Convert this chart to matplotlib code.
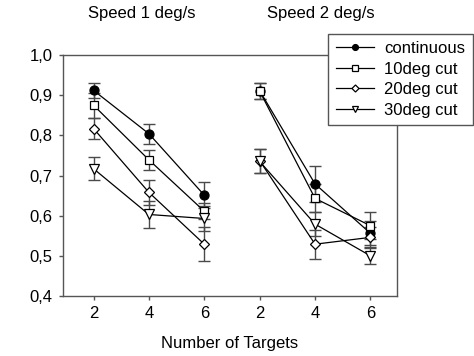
import matplotlib
matplotlib.use("Agg")
import matplotlib.pyplot as plt

plt.rcParams['font.family'] = ['Liberation Sans', 'DejaVu Sans']

# number of targets per speed block
targets = ["2", "4", "6"]
speeds = ["Speed 1 deg/s", "Speed 2 deg/s"]

# means [speed1 (2,4,6), speed2 (2,4,6)]
continuous = [[0.912, 0.804, 0.651], [0.911, 0.679, 0.556]]
cut10 = [[0.875, 0.739, 0.611], [0.910, 0.643, 0.575]]
cut20 = [[0.817, 0.658, 0.529], [0.737, 0.529, 0.546]]
cut30 = [[0.717, 0.603, 0.593], [0.735, 0.579, 0.500]]

# standard errors
continuous_err = [[0.018, 0.025, 0.032], [0.020, 0.044, 0.030]]
cut10_err = [[0.031, 0.025, 0.020], [0.020, 0.035, 0.034]]
cut20_err = [[0.027, 0.032, 0.042], [0.030, 0.036, 0.025]]
cut30_err = [[0.029, 0.034, 0.030], [0.030, 0.030, 0.020]]

series = [
    ("continuous", continuous, continuous_err, "o", "black"),
    ("10deg cut", cut10, cut10_err, "s", "white"),
    ("20deg cut", cut20, cut20_err, "D", "white"),
    ("30deg cut", cut30, cut30_err, "v", "white"),
]

fig = plt.figure(figsize=(4.74, 3.56), dpi=100)
ax = fig.add_axes([0.133, 0.1685, 0.7046, 0.677])

sizes = {"o": 6.5, "s": 6, "D": 5.5, "v": 7}
handles = []
for label, vals, errs, mk, fc in series:
    for g in range(len(speeds)):
        xs = [g * 3 + i for i in range(len(targets))]
        ax.errorbar(xs, vals[g], yerr=errs[g], fmt="none", ecolor="#4a4a4a",
                    elinewidth=1, capsize=4, capthick=1, zorder=2)
        line, = ax.plot(xs, vals[g], color="black", lw=0.9, marker=mk,
                        markersize=sizes[mk], markerfacecolor=fc,
                        markeredgecolor="black", markeredgewidth=0.9, zorder=3)
    handles.append((line, label))

ax.set_xlim(-0.55, 5.48)
ax.set_ylim(0.4, 1.0)
ax.set_xticks(range(6))
ax.set_xticklabels(targets * 2, fontsize=12)
yt = [0.4, 0.5, 0.6, 0.7, 0.8, 0.9, 1.0]
ax.set_yticks(yt)
ax.set_yticklabels([f"{v:.1f}".replace(".", ",") for v in yt], fontsize=12)
ax.tick_params(direction="out", length=3, width=1, color="#555555", pad=4.5)
for s in ax.spines.values():
    s.set_color("#555555")
    s.set_linewidth(1)

fig.text(0.485, 0.036, "Number of Targets", ha="center", va="center", fontsize=12)
fig.text(0.30, 0.962, speeds[0], ha="center", va="center", fontsize=12)
fig.text(0.677, 0.962, speeds[1], ha="center", va="center", fontsize=12)

leg = fig.legend([h for h, _ in handles], [l for _, l in handles],
                 loc="upper right", bbox_to_anchor=(0.997, 0.905),
                 borderaxespad=0, fontsize=12, frameon=True, fancybox=False,
                 edgecolor="#555555", framealpha=1, markerscale=0.65,
                 handlelength=2.3, handletextpad=0.6, borderpad=0.45,
                 labelspacing=0.33)
leg.get_frame().set_linewidth(1)

fig.savefig("out.png", dpi=100)
